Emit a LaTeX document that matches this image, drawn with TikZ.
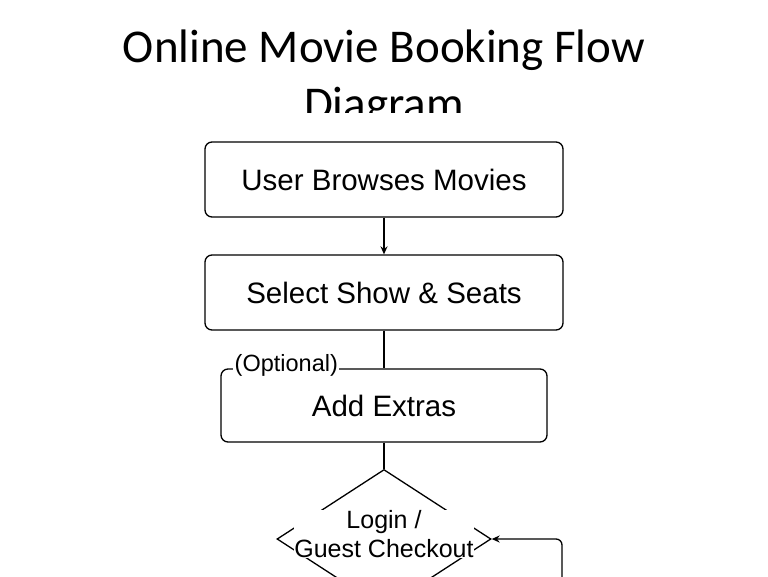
\documentclass[tikz,border=0pt]{standalone}
\usepackage{fontspec}
\setmainfont{Liberation Sans}
\newfontfamily\titlefont{Carlito}
\usetikzlibrary{arrows.meta,shapes.geometric}
\begin{document}
\begin{tikzpicture}[x=1pt,y=-1pt,
  box/.style={draw,line width=1.3pt,rounded corners=7pt,font=\fontsize{29.5}{34}\selectfont},
  conn/.style={line width=1.3pt},
  arr/.style={conn,-{Stealth[length=8pt,width=7pt]}}]
\useasboundingbox (0,0) rectangle (768,576);
\begin{scope}
\clip (0,0) rectangle (768,112);
\node[font=\titlefont\fontsize{47}{57}\selectfont,align=center,anchor=north] (title) at (384,26) {Online Movie Booking Flow\\Diagram};
\end{scope}
\node[box,minimum width=358pt,minimum height=75pt] (b1) at (384,179.5) {User Browses Movies};
\node[box,minimum width=358pt,minimum height=75pt] (b2) at (384,292.5) {Select Show \& Seats};
\node[box,minimum width=326pt,minimum height=73pt] (b3) at (384,405.5) {Add Extras};
\node[font=\fontsize{23.5}{26}\selectfont,fill=white,inner sep=1.5pt,anchor=west] (opt) at (233,365) {(Optional)};
\node[draw,line width=1.3pt,diamond,aspect=1.55,minimum width=214pt,minimum height=139pt,inner sep=0pt] (d) at (384,539) {};
\node[font=\fontsize{25}{29}\selectfont,align=center,fill=white,inner sep=0pt] (dt) at (384,534) {Login /\\Guest Checkout};
\draw[arr] (b1) -- (b2);
\draw[conn] (b2) -- (b3);
\draw[conn] (b3) -- (d.north);
\coordinate (lp) at (562,580);
\draw[arr,rounded corners=6pt] (lp) |- (d.east);
\end{tikzpicture}
\end{document}
